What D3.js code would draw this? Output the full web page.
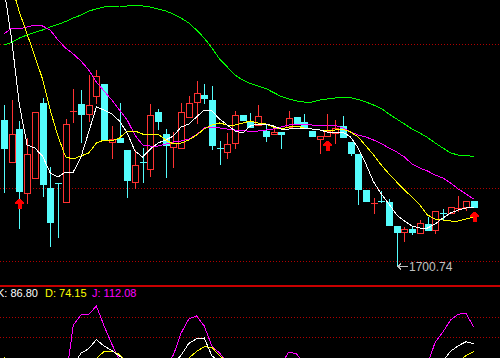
<!DOCTYPE html>
<html><head><meta charset="utf-8">
<script src="https://cdn.jsdelivr.net/npm/d3@7/dist/d3.min.js"></script>
<style>html,body{margin:0;padding:0;background:#000;overflow:hidden}svg{display:block}</style>
</head><body><svg id="c" width="500" height="358"></svg>
<script>
// ---- candle data (price) ----
const opens  = [2140,2014.9,2113,1921,1966,2191.9,1936.9,1951,1894,2167,2188.9,2157.1,2212,2248,2073.1,2086.9,2050,1953.1,2014,1992.1,2163.1,2098,2059.9,2055.1,2148.1,2194.9,2215,2200,2057.5,2043.1,2070.1,2155,2137,2125.9,2107.9,2097.1,2104.9,2118.1,2148.1,2133.1,2107,2083.9,2092.9,2101.9,2122.9,2074.9,2037.1,1930,1891,1897.6,1894.9,1822,1803.1,1812.1,1800.1,1827.1,1810,1862.5,1860.1,1876,1878.1,1897.9];
const highs  = [2185,2200,2137,2086,2164,2206.9,1999.9,1951,2142.1,2233,2230,2275,2290,2248,2122,2190.1,2050,2050,2055.1,2187.1,2172.1,2113,2104.9,2191.9,2212,2257,2248,2242,2077,2101.9,2167,2155,2161.9,2185,2125,2119.9,2104.9,2167,2148.1,2158,2107,2092.9,2158,2140,2152,2074.9,2037.1,1930,1906,1927,1902.1,1822,1818.1,1818.1,1840,1849.9,1867,1873,1878.1,1912,1897,1897.9];
const lows   = [1924.9,2014.9,1816,1891,1966,1912,1762,1789,1894,2134.9,2074.9,2137,2191,2083,2026.9,2074.9,1908.1,1936.9,1954.9,1972.9,2113,1969.9,1999.9,2055.1,2148.1,2131.9,2191.9,2053,2007.1,2026.9,2055.1,2140,2119.9,2125.9,2077,2097.1,2056.9,2118.1,2131.9,2115.1,2092.9,2041.9,2092.9,2070.1,2089.9,2035,1888,1897.9,1861.9,1894.9,1825,1700.74,1777,1797.1,1800.1,1810,1801.9,1840,1860.1,1867,1870,1878.1];
const closes = [2056.9,2098,1927.9,2038,2164,1948,1834.9,1948,2128,2168.5,2157.1,2185,2272.9,2083,2082.1,2074.9,1960,2005,2011.9,2155,2137.9,2065,2070.1,2163.1,2191.9,2220.1,2206.9,2065,2056,2068,2155,2140,2119.9,2152,2092.9,2104.9,2098.9,2145.1,2131.9,2115.1,2092.9,2092.9,2107,2116.9,2089.9,2041.9,1933,1897.9,1892.5,1896.1,1825,1804.9,1813,1803.1,1830.1,1810,1867,1861,1878.1,1877.5,1897,1878.1];
// ---- moving averages ----
const ma5  = [2536,2380,2185,2065,2056,2032,1981,1969,1984,1984,2029,2104,2179,2170,2158,2137,2101,2047,2029,2053,2071,2080,2092,2119,2128,2149,2170,2167,2143,2125,2107,2101,2122,2128,2128,2122,2113,2113,2116,2116,2113,2110,2104,2104,2104,2089,2056,2008,1954,1918,1888,1855,1837,1822,1816,1816,1828,1846,1861,1870,1876,1879];
const ma10 = [2614,2542,2464,2398,2332,2263,2170,2092,2029,2023,2032,2041,2071,2080,2077,2086,2107,2107,2098,2098,2098,2080,2068,2071,2080,2095,2113,2125,2131,2125,2125,2131,2137,2131,2128,2119,2113,2119,2122,2116,2113,2110,2107,2110,2113,2104,2089,2062,2035,2005,1978,1954,1930,1909,1885,1855,1843,1840,1837,1837,1843,1849];
const ma20 = [2398,2416,2413,2419,2425,2422,2410,2380,2356,2338,2317,2290,2254,2227,2200,2170,2140,2095,2065,2062,2062,2068,2074,2077,2083,2095,2116,2119,2116,2113,2110,2110,2104,2107,2110,2113,2119,2125,2128,2128,2125,2125,2125,2123.5,2116,2104,2095,2089,2080,2069.5,2056,2044,2029,2008,1996,1987,1975,1966,1951,1933,1918,1903];
const ma60 = [2365,2372.5,2386,2395,2402.5,2410,2419,2426.5,2435.5,2446,2455,2467,2473,2479,2480.5,2482,2482,2483.5,2482,2479,2473,2467,2458,2446,2431,2410,2386,2356,2323,2299,2275,2260,2249.5,2242,2234.5,2222.5,2210.5,2203,2197,2194,2194,2200,2203,2206,2207.5,2207.5,2201.5,2194,2185,2174.5,2158,2143,2128,2113,2101,2087.5,2071,2056,2041,2035,2033.5,2030.5];
// ---- KDJ ----
const kVals = [50,40,30,32,38,35,28,30,40,54,72,79,93,83,76,67.7,58,48,40,38,42,48,55,69,87,94,95.4,68,58,52,48,45,44,46,50,52,55,60,60,55,50,45,48,50,45,38,30,22,18,15,12,14,18,22,28,40,50,60,75,83.5,89.7,86.80];
const dVals = [65.4,58,50,45,42,40,38,37,40,45,52,60,64,74.6,75.4,70,58,52,48,45,44,45,48,55,64.6,74.6,82,80.8,68.5,58,55,52,50,48,48,49,51,54,56,56,54,51,50,50,48,45,40,34,29,24,20,18,18,19,22,28,35,43,54,58,68.5,74.15];
const jVals = [40,20,10,15,25,20,10,20,30,115,131,131.5,144.6,114,86,61.5,40,25,20,30,45,55,69,103,124.6,129.5,114,83,72,58,45,40,35,35,40,45,55,74,71,55,45,35,40,45,40,30,20,10,5,0,-5,0,10,25,40,55,89,104.6,123,132,133.4,112.08];
// ---- buy signals ----
const signalIdx = [2,42,61];
const signalPrice = [1903,2077,1865];

const W = 500, H = 358;
const svg = d3.select("#c");
svg.append("rect").attr("width",W).attr("height",H).attr("fill","#000");

const n = opens.length;
const x = d3.scalePoint().domain(d3.range(n)).range([4, 473.7]);
const y = d3.scaleLinear().domain([1700, 2500]).range([266.667, 0]);
const ky = d3.scaleLinear().domain([0, 100]).range([400, 335]);

const RED = "#ff3232", CYAN = "#54fcfc";

// grid (dotted)
const grid = svg.append("g").attr("shape-rendering","crispEdges");
[44, 188, 261, 317, 337].forEach(gy => {
  grid.append("line").attr("x1",0).attr("x2",W).attr("y1",gy+0.5).attr("y2",gy+0.5)
    .attr("stroke","#b00000").attr("stroke-width",1).attr("stroke-dasharray","1,2");
});
// separator
svg.append("line").attr("x1",0).attr("x2",W).attr("y1",286).attr("y2",286)
  .attr("stroke","#c80000").attr("stroke-width",2).attr("shape-rendering","crispEdges");

// candles
const cg = svg.append("g").attr("shape-rendering","crispEdges");
for (let i = 0; i < n; i++) {
  const cx = Math.round(x(i));
  const up = closes[i] >= opens[i];
  const col = up ? RED : CYAN;
  const top = Math.round(y(Math.max(opens[i], closes[i])));
  const bot = Math.round(y(Math.min(opens[i], closes[i])));
  const yh = Math.round(y(highs[i])), yl = Math.round(y(lows[i]));
  const h = bot - top;
  if (h <= 1) {
    cg.append("line").attr("x1",cx+0.5).attr("x2",cx+0.5).attr("y1",yh).attr("y2",yl+1).attr("stroke",col);
    cg.append("line").attr("x1",cx-3).attr("x2",cx+4).attr("y1",top+0.5).attr("y2",top+0.5).attr("stroke",col);
  } else if (up) {
    if (yh < top) cg.append("line").attr("x1",cx+0.5).attr("x2",cx+0.5).attr("y1",yh).attr("y2",top).attr("stroke",col);
    if (yl > bot) cg.append("line").attr("x1",cx+0.5).attr("x2",cx+0.5).attr("y1",bot).attr("y2",yl+1).attr("stroke",col);
    cg.append("rect").attr("x",cx-2.5).attr("y",top+0.5).attr("width",6).attr("height",h)
      .attr("fill","#000").attr("stroke",col).attr("stroke-width",1);
  } else {
    cg.append("line").attr("x1",cx+0.5).attr("x2",cx+0.5).attr("y1",yh).attr("y2",yl+1).attr("stroke",col);
    cg.append("rect").attr("x",cx-3).attr("y",top).attr("width",7).attr("height",h+1).attr("fill",col);
  }
}

// moving averages
const line = d3.line().x((d,i)=>x(i)).y(d=>y(d));
const lg = svg.append("g").attr("fill","none").attr("stroke-width",1).attr("shape-rendering","crispEdges");
[[ma60,"#00ff00"],[ma20,"#ff00ff"],[ma10,"#ffff00"],[ma5,"#ffffff"]].forEach(([arr,c]) => {
  lg.append("path").attr("d",line(arr)).attr("stroke",c);
});

// buy-signal arrows
signalIdx.forEach((si, k) => {
  const cx = Math.round(x(si)) + 0.5, t = Math.round(y(signalPrice[k]));
  const p = `M${cx-1},${t} L${cx+1},${t} L${cx+4.5},${t+3.5} L${cx+4.5},${t+5} L${cx+2},${t+5} L${cx+2},${t+10} L${cx-2},${t+10} L${cx-2},${t+5} L${cx-4.5},${t+5} L${cx-4.5},${t+3.5} Z`;
  svg.append("path").attr("d",p).attr("fill","#ff0000").attr("shape-rendering","crispEdges");
});

// min low annotation
const minI = d3.minIndex(lows);
const mx = Math.round(x(minI)), my = Math.round(y(lows[minI])) + 0.5;
const ag = svg.append("g").attr("stroke","#c0c0c0").attr("fill","none").attr("shape-rendering","crispEdges");
ag.append("line").attr("x1",mx+1).attr("x2",mx+11).attr("y1",my).attr("y2",my);
ag.append("path").attr("d",`M${mx+4},${my-3} L${mx+1},${my} L${mx+4},${my+3}`);
svg.append("text").attr("x",mx+12).attr("y",my+4.5).attr("fill","#c0c0c0")
  .attr("font-family","Liberation Sans, Arial, sans-serif").attr("font-size",12)
  .text(d3.format(".2f")(lows[minI]));

// KDJ lines
const kline = d3.line().x((d,i)=>x(i)).y(d=>ky(d));
svg.append("clipPath").attr("id","kclip").append("rect").attr("x",0).attr("y",288).attr("width",W).attr("height",70);
const kg = svg.append("g").attr("fill","none").attr("stroke-width",1).attr("shape-rendering","crispEdges")
  .attr("clip-path","url(#kclip)");
[[jVals,"#ff00ff"],[dVals,"#ffff00"],[kVals,"#ffffff"]].forEach(([arr,c]) => {
  kg.append("path").attr("d",kline(arr)).attr("stroke",c);
});

// KDJ header
const last = n - 1;
const fmt = d3.format(".2f");
const hdr = [["K: " + fmt(kVals[last]), "#ffffff", -3], ["D: " + fmt(dVals[last]), "#ffff00", 45], ["J: " + fmt(jVals[last]), "#ff00ff", 92]];
hdr.forEach(([t,c,tx]) => {
  svg.append("text").attr("x",tx).attr("y",297).attr("fill",c)
    .attr("font-family","Liberation Sans, Arial, sans-serif").attr("font-size",11).text(t);
});
</script></body></html>
